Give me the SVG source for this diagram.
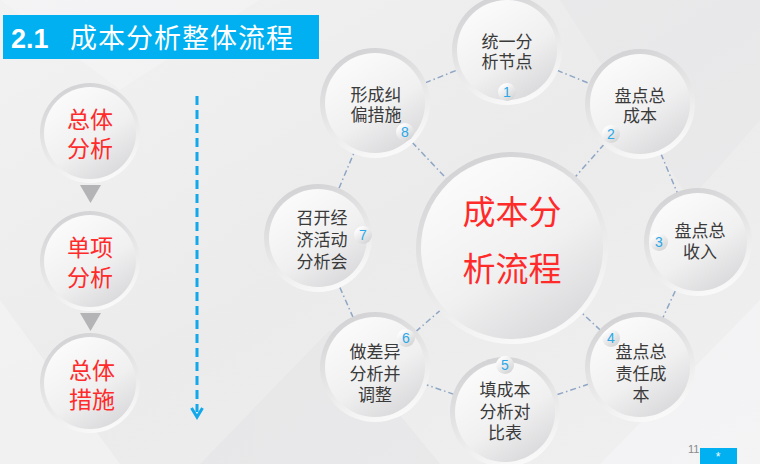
<svg xmlns="http://www.w3.org/2000/svg" width="760" height="464" viewBox="0 0 760 464">
<defs>
<linearGradient id="bg" x1="0" y1="0" x2="1" y2="1">
<stop offset="0" stop-color="#f2f2f3"/><stop offset="0.5" stop-color="#ebebec"/><stop offset="1" stop-color="#f0f0f1"/>
</linearGradient>
<linearGradient id="ring" x1="0.3" y1="0" x2="0.7" y2="1">
<stop offset="0" stop-color="#d2d2d4"/><stop offset="1" stop-color="#fbfbfb"/>
</linearGradient>
<linearGradient id="body" x1="0.25" y1="0.1" x2="0.8" y2="0.95">
<stop offset="0" stop-color="#fafafa"/><stop offset="0.55" stop-color="#f0f0f1"/><stop offset="1" stop-color="#d9d9db"/>
</linearGradient>
<linearGradient id="badge" x1="0.2" y1="0.1" x2="0.8" y2="0.9">
<stop offset="0" stop-color="#ffffff"/><stop offset="1" stop-color="#d5d5d7"/>
</linearGradient>
<style>
.ring{fill:url(#ring)}
.body{fill:url(#body)}
.bdg{fill:url(#badge)}
.t{font-family:"Liberation Sans","Noto Sans CJK SC",sans-serif;font-size:17px;fill:#3a3a3a;text-anchor:middle}
.red{font-family:"Liberation Sans","Noto Sans CJK SC",sans-serif;fill:#ff2a2a;text-anchor:middle}
.num{font-family:"Liberation Sans","Noto Sans",sans-serif;font-size:14px;fill:#2aa8e8;text-anchor:middle}
.con{stroke:#8ea6c4;stroke-width:1.5;stroke-dasharray:6 3 1.5 3;fill:none}
</style>
</defs>
<rect width="760" height="464" fill="url(#bg)"/>
<g opacity="0.5">
<polygon points="0,0 260,0 120,90" fill="#f6f6f7"/>
<polygon points="560,0 760,0 760,120 690,200" fill="#e6e6e8"/>
<polygon points="600,464 760,300 760,464" fill="#f8f8f9"/>
<polygon points="0,300 120,464 0,464" fill="#f7f7f8"/>
<polygon points="200,464 330,330 440,464" fill="#e4e4e6"/>
</g>
<g id="title">
<rect x="3" y="15" width="316" height="44" fill="#00b0f0"/>
<text x="11" y="48" font-family="Liberation Sans,sans-serif" font-weight="bold" font-size="27" fill="#ffffff">2.1</text>
<text x="70" y="48" font-family="Noto Sans CJK SC,Liberation Sans,sans-serif" font-size="27" fill="#ffffff" letter-spacing="1">成本分析整体流程</text>
</g>
<g id="left-flow">
<g id="n-l1"><circle cx="90" cy="133" r="50" class="ring"/><circle cx="90" cy="133" r="46" class="body"/>
<text class="red" font-size="23"><tspan x="90" y="128">总体</tspan><tspan x="90" y="157">分析</tspan></text></g>
<polygon points="80,185 101,185 90.5,203" fill="#b4b4b6"/>
<g id="n-l2"><circle cx="90" cy="261" r="50" class="ring"/><circle cx="90" cy="261" r="46" class="body"/>
<text class="red" font-size="23"><tspan x="90" y="256">单项</tspan><tspan x="90" y="286">分析</tspan></text></g>
<polygon points="80,313 101,313 90.5,331" fill="#b4b4b6"/>
<g id="n-l3"><circle cx="90" cy="383" r="50" class="ring"/><circle cx="90" cy="383" r="46" class="body"/>
<text class="red" font-size="23"><tspan x="92" y="379">总体</tspan><tspan x="92" y="408">措施</tspan></text></g>
</g>
<g id="arrow">
<line x1="197" y1="96" x2="197" y2="412" stroke="#12a8ea" stroke-width="3" stroke-dasharray="9 5"/>
<polyline points="191.5,408 197,417 202.5,408" fill="none" stroke="#12a8ea" stroke-width="3"/>
</g>
<g id="connectors">
<line class="con" x1="507" y1="50" x2="640" y2="104"/>
<line class="con" x1="640" y1="104" x2="698" y2="242"/>
<line class="con" x1="698" y1="242" x2="640" y2="367"/>
<line class="con" x1="640" y1="367" x2="505" y2="412"/>
<line class="con" x1="505" y1="412" x2="375" y2="367"/>
<line class="con" x1="375" y1="367" x2="318" y2="238"/>
<line class="con" x1="318" y1="238" x2="375" y2="103"/>
<line class="con" x1="375" y1="103" x2="507" y2="50"/>
<line class="con" x1="375" y1="103" x2="512" y2="248"/>
<line class="con" x1="640" y1="104" x2="512" y2="248"/>
<line class="con" x1="640" y1="367" x2="512" y2="248"/>
<line class="con" x1="375" y1="367" x2="512" y2="248"/>
</g>
<g id="center">
<circle cx="512" cy="248" r="96" class="ring"/><circle cx="512" cy="248" r="91" class="body"/>
<text class="red" font-size="33"><tspan x="512" y="224">成本分</tspan><tspan x="512" y="281">析流程</tspan></text>
</g>
<g id="n1"><circle cx="507" cy="50" r="55" class="ring"/><circle cx="507" cy="50" r="50" class="body"/>
<text class="t"><tspan x="507" y="48">统一分</tspan><tspan x="507" y="68">析节点</tspan></text>
<circle cx="507" cy="92" r="9" class="bdg"/><text class="num" x="507" y="97">1</text></g>
<g id="n2"><circle cx="640" cy="104" r="55" class="ring"/><circle cx="640" cy="104" r="50" class="body"/>
<text class="t"><tspan x="640" y="102">盘点总</tspan><tspan x="640" y="122">成本</tspan></text>
<circle cx="611" cy="134" r="9" class="bdg"/><text class="num" x="611" y="139">2</text></g>
<g id="n3"><circle cx="698" cy="242" r="54" class="ring"/><circle cx="698" cy="242" r="49" class="body"/>
<text class="t"><tspan x="700" y="237">盘点总</tspan><tspan x="700" y="258">收入</tspan></text>
<circle cx="659" cy="242" r="9" class="bdg"/><text class="num" x="659" y="247">3</text></g>
<g id="n4"><circle cx="640" cy="367" r="55" class="ring"/><circle cx="640" cy="367" r="50" class="body"/>
<text class="t"><tspan x="641" y="358">盘点总</tspan><tspan x="641" y="380">责任成</tspan><tspan x="641" y="401">本</tspan></text>
<circle cx="611" cy="338" r="9" class="bdg"/><text class="num" x="611" y="343">4</text></g>
<g id="n5"><circle cx="505" cy="412" r="55" class="ring"/><circle cx="505" cy="412" r="50" class="body"/>
<text class="t"><tspan x="505" y="396">填成本</tspan><tspan x="505" y="418">分析对</tspan><tspan x="505" y="439">比表</tspan></text>
<circle cx="505" cy="365" r="9" class="bdg"/><text class="num" x="505" y="370">5</text></g>
<g id="n6"><circle cx="375" cy="367" r="55" class="ring"/><circle cx="375" cy="367" r="50" class="body"/>
<text class="t"><tspan x="375" y="358">做差异</tspan><tspan x="375" y="380">分析并</tspan><tspan x="375" y="401">调整</tspan></text>
<circle cx="406" cy="338" r="9" class="bdg"/><text class="num" x="406" y="343">6</text></g>
<g id="n7"><circle cx="318" cy="238" r="54" class="ring"/><circle cx="318" cy="238" r="49" class="body"/>
<text class="t"><tspan x="322" y="224">召开经</tspan><tspan x="322" y="246">济活动</tspan><tspan x="322" y="268">分析会</tspan></text>
<circle cx="363" cy="235" r="9" class="bdg"/><text class="num" x="363" y="240">7</text></g>
<g id="n8"><circle cx="375" cy="103" r="55" class="ring"/><circle cx="375" cy="103" r="50" class="body"/>
<text class="t"><tspan x="376" y="101">形成纠</tspan><tspan x="376" y="121">偏措施</tspan></text>
<circle cx="405" cy="132" r="9" class="bdg"/><text class="num" x="405" y="137">8</text></g>
<g id="footer">
<text x="688" y="453" font-family="Liberation Sans,sans-serif" font-size="11" fill="#8a8a8a">11</text>
<rect x="700" y="448" width="37" height="16" fill="#00b0f0"/>
<text x="718" y="461" font-family="Liberation Sans,sans-serif" font-size="12" fill="#ffffff" text-anchor="middle">*</text>
</g>
</svg>
